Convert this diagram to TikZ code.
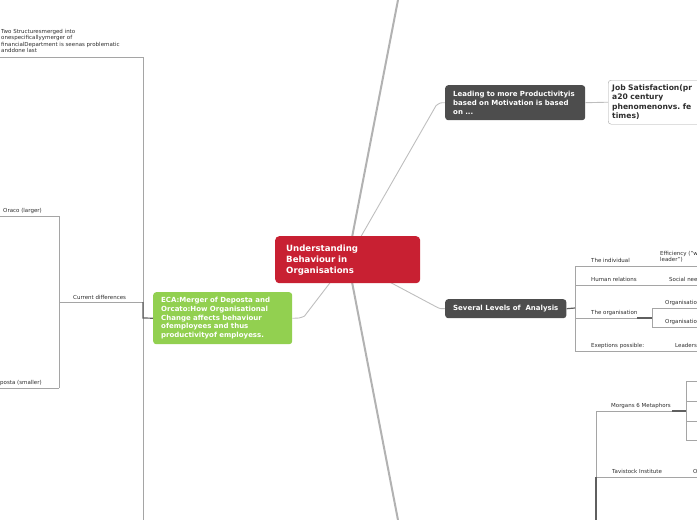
\documentclass[tikz,border=0pt]{standalone}
\usepackage{fontspec}
\setmainfont{DejaVu Sans}
\usepackage{xcolor}
\usetikzlibrary{positioning,calc,backgrounds}
\definecolor{rootred}{RGB}{200,32,50}
\definecolor{topicgrey}{RGB}{77,77,77}
\definecolor{ecagreen}{RGB}{146,208,80}
\definecolor{linkgrey}{RGB}{190,190,190}
\definecolor{trunkgrey}{RGB}{178,178,178}
\definecolor{treegrey}{RGB}{165,165,165}
\definecolor{jointgrey}{RGB}{95,95,95}
\definecolor{darktext}{RGB}{45,45,45}
\frenchspacing

\begin{document}
\begin{tikzpicture}[x=1pt, y=-1pt,
    root/.style={rectangle, rounded corners=4pt, fill=rootred, text=white, font=\fontsize{8.6}{11}\selectfont\bfseries, align=left, anchor=north west, inner xsep=11pt, inner ysep=0pt},
    topic/.style={rectangle, rounded corners=3pt, fill=topicgrey, text=white, font=\fontsize{7}{8.7}\selectfont\bfseries, align=left, anchor=north west, inner xsep=8pt, inner ysep=0pt},
    eca/.style={topic, fill=ecagreen},
    sub/.style={rectangle, rounded corners=3pt, draw=treegrey, fill=white, text=darktext, font=\fontsize{7.6}{9.6}\selectfont\bfseries, align=left, anchor=north west, inner xsep=4pt, inner ysep=0pt},
    leaf/.style={font=\fontsize{5.5}{6.4}\selectfont, text=darktext, anchor=base west, inner sep=0pt, align=left},
    link/.style={draw=linkgrey, line width=0.9pt},
    trunk/.style={draw=trunkgrey, line width=2pt},
    branch/.style={draw=treegrey, line width=0.8pt},
    joint/.style={draw=jointgrey, line width=1.2pt}
]
\useasboundingbox (0,0) rectangle (697,520);
\clip (0,0) rectangle (697,520);

% main topics
\node[root, text width=123pt, minimum height=47pt] (root) at (275,236) {Understanding\\Behaviour in\\Organisations};
\node[topic, text width=124pt, minimum height=35pt] (lead) at (445,85) {Leading to more Productivityis\\based on Motivation is based\\on ...};
\node[sub, text width=112pt, minimum height=44pt] (job) at (608,80) {Job Satisfaction(pr\\a20 century\\phenomenonvs. fe\\times)};
\node[topic, minimum width=120pt, minimum height=19pt, align=center] (levels) at (445,299) {Several Levels of\ \ Analysis};
\node[eca, text width=123pt, minimum height=52pt] (eca) at (153,292) {ECA:Merger of Deposta and\\Orcato:How Organisational\\Change affects behaviour\\ofemployees and thus\\productivityof employess.};

% off-frame ends
\coordinate (upEnd) at (398,0);
\coordinate (downEnd) at (398,520);

\begin{scope}[on background layer]
\draw[trunk] (root.center) -- (upEnd);
\draw[trunk] (root.center) -- (downEnd);
\draw[link] (root.center) -- ($(lead.west)+(-9,3)$) .. controls ($(lead.west)+(-5,0)$) .. (lead.west);
\draw[link] (root.center) -- ($(levels.west)+(-9,-2)$) .. controls ($(levels.west)+(-5,0)$) .. (levels.west);
\draw[link] (root.center) -- ($(eca.east)+(12,-2)$) .. controls ($(eca.east)+(7,0)$) .. (eca.east);
\end{scope}
\draw[link] (lead.east) -- (job.west);

% left branch
\coordinate (leftTop) at (143,57);
\coordinate (leftBot) at (143,520);
\coordinate (ecaJoin) at (143,318);
\coordinate (diffJoin) at (143,302);
\coordinate (diffEnd) at (59,302);
\coordinate (twoEnd) at (0,57);
\coordinate (oracoJoin) at (59,216);
\coordinate (oracoEnd) at (0,216);
\coordinate (depJoin) at (59,388);
\coordinate (depEnd) at (0,388);
\draw[branch] (leftTop) -- (leftBot);
\draw[branch] (twoEnd) -- (leftTop);
\draw[branch] (diffEnd) -- (diffJoin);
\draw[branch] (oracoJoin) -- (depJoin);
\draw[branch] (oracoEnd) -- (oracoJoin);
\draw[branch] (depEnd) -- (depJoin);
\draw[joint] (eca.west) -- (ecaJoin) -- (diffJoin);

\node[leaf, anchor=north west] (two) at (1,29) {Two Structuresmerged into\\onespecificallyymerger of\\financialDepartment is seenas problematic\\anddone last};
\node[leaf] (oraco) at (3,212) {Oraco (larger)};
\node[leaf] (deposta) at (0,384) {posta (smaller)};
\node[leaf] (diff) at (73,299) {Current differences};

% levels of analysis
\foreach \n/\y in {ind/266, hum/285, org/318, exc/351} {
    \coordinate (\n) at (575,\y);
}
\coordinate (lvJoin) at (575,308);
\coordinate (orgJoin) at (652,318);
\coordinate (orgA) at (652,308);
\coordinate (orgB) at (652,327);
\draw[branch] (ind) -- (exc);
\foreach \n in {ind, hum, exc} {
    \draw[branch] (\n) -- ++(130,0);
}
\draw[branch] (org) -- (orgJoin);
\draw[branch] (orgA) -- (orgB);
\draw[branch] (orgA) -- ++(60,0);
\draw[branch] (orgB) -- ++(60,0);
\draw[joint] (levels.east) -- (lvJoin);
\draw[joint] ($(orgJoin)+(-15,0)$) -- (orgJoin);

\node[leaf] (indL) at (591,262) {The individual};
\node[leaf, anchor=south west] (effL) at (660,262.5) {Efficiency ("w\\leader")};
\node[leaf] (humL) at (591,281) {Human relations};
\node[leaf] (socL) at (669,281) {Social nee};
\node[leaf] (orgL) at (591,314) {The organisation};
\node[leaf] (orgAL) at (665,304) {Organisatio};
\node[leaf] (orgBL) at (665,323) {Organisatio};
\node[leaf] (excL) at (591,347) {Exeptions possible:};
\node[leaf] (leadL) at (675,347) {Leaders};

% lower right branch
\coordinate (morTop) at (596,411);
\coordinate (morBot) at (596,520);
\coordinate (tavJoin) at (596,477);
\coordinate (metJoin) at (686,411);
\coordinate (metTop) at (686,381);
\coordinate (metBot) at (686,440);
\draw[branch] (morTop) -- (morBot);
\draw[branch] (morTop) -- (metJoin);
\draw[branch] (tavJoin) -- ++(110,0);
\draw[branch] (metTop) -- (metBot);
\foreach \y in {381, 401, 421, 440} {
    \draw[branch] (686,\y) -- ++(20,0);
}
\draw[joint] ($(metJoin)+(-14,0)$) -- (metJoin);
\draw[joint] (tavJoin) -- (morBot);

\node[leaf] (morL) at (611,407) {Morgans 6 Metaphors};
\node[leaf] (tavL) at (612,473) {Tavistock Institute};
\node[leaf] (tavO) at (693,473) {O};
\end{tikzpicture}
\end{document}
